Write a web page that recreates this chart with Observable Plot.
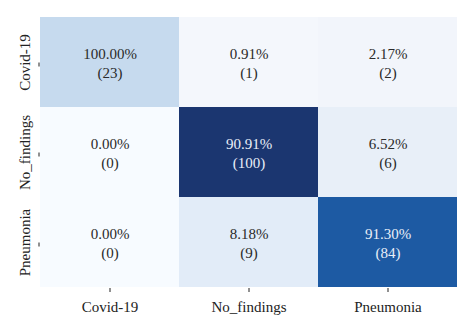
<!DOCTYPE html>
<html>
<head>
<meta charset="utf-8">
<script src="https://cdn.jsdelivr.net/npm/d3@7"></script>
<script src="https://cdn.jsdelivr.net/npm/@observablehq/plot@0.6"></script>
<style>
  html, body { margin: 0; padding: 0; background: #fff; }
  #chart svg { display: block; }
</style>
</head>
<body>
<div id="chart"></div>
<script>
const labels = ["Covid-19", "No_findings", "Pneumonia"];
// rows = true class (y), columns = predicted class (x)
const counts = [
  [23, 1, 2],
  [0, 100, 6],
  [0, 9, 84]
];
const percents = [
  ["100.00%", "0.91%", "2.17%"],
  ["0.00%", "90.91%", "6.52%"],
  ["0.00%", "8.18%", "91.30%"]
];

const cells = [];
labels.forEach((rowLab, i) => {
  labels.forEach((colLab, j) => {
    cells.push({
      y: rowLab,
      x: colLab,
      count: counts[i][j],
      label: percents[i][j] + "\n(" + counts[i][j] + ")"
    });
  });
});

const serif = "Liberation Serif";

const chart = Plot.plot({
  width: 474,
  height: 331,
  marginLeft: 39,
  marginRight: 17,
  marginTop: 16,
  marginBottom: 43,
  style: { fontFamily: serif, fontSize: "15px", background: "#fff", color: "#222" },
  x: { domain: labels, padding: 0, label: null },
  y: { domain: labels, padding: 0, label: null },
  color: {
    type: "linear",
    domain: [0, 1, 6, 9, 23, 84, 100],
    range: ["#f7fbff", "#f4f7fc", "#e8eff8", "#e2ecf8", "#c6daee", "#1d5aa3", "#1b3670"],
    interpolate: "rgb"
  },
  marks: [
    Plot.cell(cells, { x: "x", y: "y", fill: "count", inset: 0 }),
    Plot.text(cells, {
      x: "x", y: "y", text: "label",
      lineHeight: 1.27,
      fontSize: 15,
      fontFamily: serif,
      fill: d => d.count > 50 ? "#e9eff8" : "#2a2a2a"
    }),
    Plot.axisX({ anchor: "bottom", tickSize: 4, tickPadding: 9, fontSize: 15, fontFamily: serif, label: null }),
    Plot.axisY({ anchor: "left", tickSize: 4, tickPadding: 10, fontSize: 15, fontFamily: serif, rotate: -90, textAnchor: "middle", label: null })
  ]
});

document.getElementById("chart").appendChild(chart);
</script>
</body>
</html>
